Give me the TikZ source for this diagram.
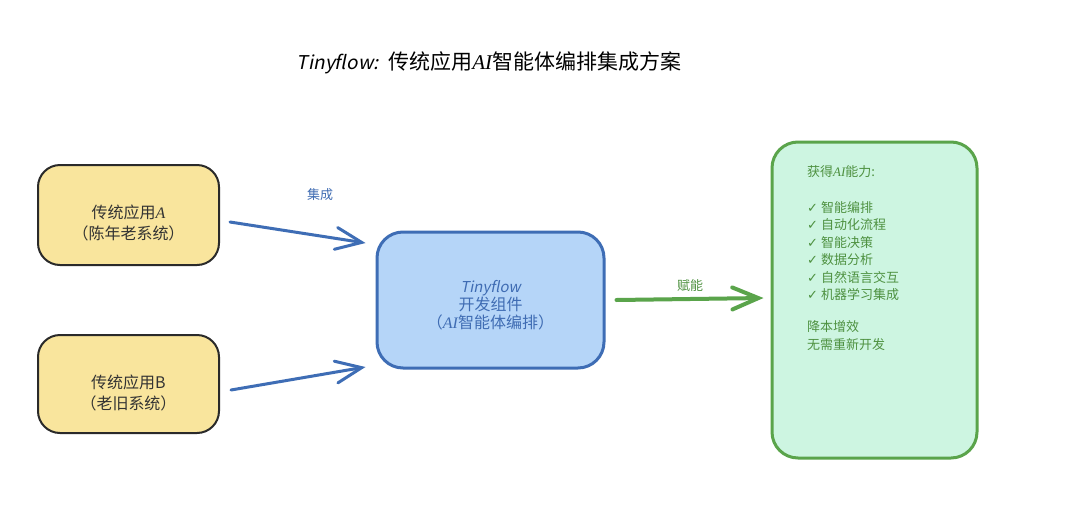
\documentclass[tikz,border=0pt]{standalone}
\usepackage{fontspec}
\setmainfont{Noto Sans CJK SC}
\newfontfamily\sym{DejaVu Sans}
\newfontfamily\hand[FakeSlant=0.2]{Noto Sans CJK SC}
\newfontfamily\ai{Liberation Serif}
\usetikzlibrary{arrows.meta,calc}
\definecolor{yfill}{HTML}{F9E59D}
\definecolor{ydraw}{HTML}{2A2A2A}
\definecolor{bfill}{HTML}{B5D5F8}
\definecolor{bdraw}{HTML}{3E6DB5}
\definecolor{gfill}{HTML}{CDF5E1}
\definecolor{gdraw}{HTML}{5AA44B}
\definecolor{gtext}{HTML}{4E9140}
\definecolor{btext}{HTML}{3F6CB3}
\definecolor{dtext}{HTML}{333333}
\newcommand{\AIx}{{\ai\itshape AI}}
\tikzset{
  appbox/.style={draw=ydraw, fill=yfill, line width=2pt, rounded corners=22pt,
    minimum width=181pt, minimum height=100pt, align=center, text=dtext,
    font=\fontsize{16}{21}\selectfont},
  apptext/.style={align=center, text=dtext, font=\fontsize{16}{21}\selectfont},
  midbox/.style={draw=bdraw, fill=bfill, line width=3pt, rounded corners=26pt,
    minimum width=227pt, minimum height=136pt},
  midtext/.style={align=center, text=btext, font=\fontsize{16}{18}\selectfont},
  resbox/.style={draw=gdraw, fill=gfill, line width=3pt, rounded corners=26pt,
    minimum width=205pt, minimum height=316pt},
  bluearrow/.style={draw=bdraw, line width=3pt, line cap=round,
    -{Straight Barb[length=26pt,width=22pt,line cap=round]}},
  greenarrow/.style={draw=gdraw, line width=4pt, line cap=round,
    -{Straight Barb[length=26pt,width=22pt,line cap=round]}},
  lbl/.style={font=\fontsize{13}{15}\selectfont}
}
\begin{document}
\begin{tikzpicture}[x=1pt,y=-1pt]
\useasboundingbox[fill=white] (0,0) rectangle (1080,504);
\node (title) at (489,63) {\fontsize{21}{24}\selectfont{\hand\fontsize{19}{22}\selectfont Tinyflow:}\, 传统应用{\ai\itshape AI}智能体编排集成方案};
\node[appbox] (A) at (128.5,215) {};
\node[apptext] (At) at (128.5,223) {传统应用{\ai\itshape A}\\（陈年老系统）};
\node[appbox, minimum height=98pt] (B) at (128.5,384) {};
\node[apptext] (Bt) at (128.5,393) {传统应用B\\（老旧系统）};
\node[midbox] (mid) at (490.5,300) {};
\node[midtext] (midt) at (490.5,305) {{\hand\fontsize{15}{16}\selectfont Tinyflow}\\开发组件\\（{\ai\itshape AI}智能体编排）};
\node[resbox] (res) at (874.5,300) {};
\node[anchor=north west, align=left, text=gtext, font=\fontsize{13}{17.4}\selectfont, inner sep=0pt] (list) at (807,165)
 {获得{\ai\itshape AI}能力:\\[19pt]
 {\sym ✓} 智能编排\\
 {\sym ✓} 自动化流程\\
 {\sym ✓} 智能决策\\
 {\sym ✓} 数据分析\\
 {\sym ✓} 自然语言交互\\
 {\sym ✓} 机器学习集成\\[15pt]
 降本增效\\
 无需重新开发};
\node[lbl, text=btext] (l1) at (320,195) {集成};
\node[lbl, text=gtext] (l2) at (690,286) {赋能};
\draw[bluearrow] ([xshift=10pt,yshift=-7pt]A.east) -- ([xshift=-10pt,yshift=57pt]mid.west);
\draw[bluearrow] ([xshift=11pt,yshift=-6pt]B.east) -- ([xshift=-10pt,yshift=-67pt]mid.west);
\draw[greenarrow] ([xshift=11pt]mid.east) -- ([xshift=-7pt,yshift=2pt]res.west);
\end{tikzpicture}
\end{document}
